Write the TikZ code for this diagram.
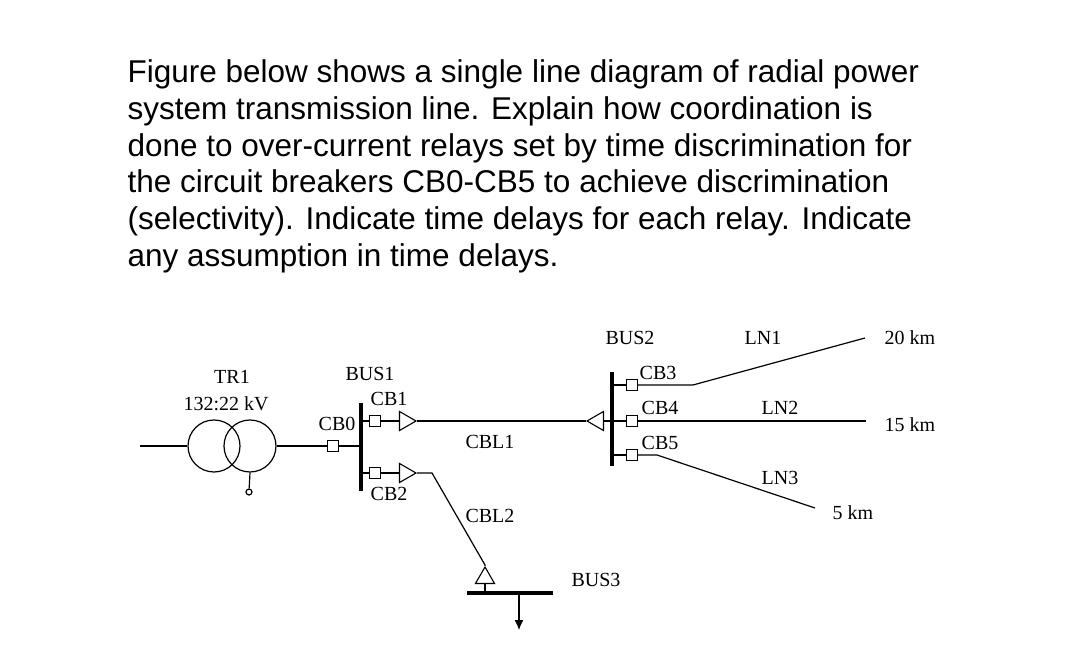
\documentclass[tikz,border=0pt]{standalone}
\usetikzlibrary{shapes.geometric,arrows.meta}
\usepackage{fontspec}
\setmainfont{Liberation Serif}
\newfontfamily\hsans{Liberation Sans}
\begin{document}
\begin{tikzpicture}[x=1pt,y=-1pt,line width=1.3pt,
  cb/.style={draw,fill=white,minimum size=11pt,inner sep=0pt,line width=1.1pt},
  tri/.style={draw,fill=white,regular polygon,regular polygon sides=3,minimum size=22pt,inner sep=0pt,line width=1.1pt},
  wire/.style={line width=1.2pt},
  lbl/.style={font=\fontsize{20}{22}\selectfont,inner sep=0pt},
  bus/.style={line width=4.5pt}]
\useasboundingbox[fill=white] (0,0) rectangle (1080,660);
\node[anchor=north west,align=left,inner sep=0pt,font=\hsans\fontsize{31.5}{36.8}\selectfont] (q) at (127,59)
{Figure below shows a single line diagram of radial power\\system transmission line. Explain how coordination is\\done to over-current relays set by time discrimination for\\the circuit breakers CB0-CB5 to achieve discrimination\\(selectivity). Indicate time delays for each relay. Indicate\\any assumption in time delays.};
% transformer
\coordinate (in) at (140,446);
\node[draw,circle,minimum size=52pt,inner sep=0pt,wire] (t1) at (214,446) {};
\node[draw,circle,minimum size=52pt,inner sep=0pt,wire] (t2) at (250,446) {};
\draw[wire] (in) -- (t1.west);
\node[draw,circle,minimum size=6pt,inner sep=0pt,wire] (gnd) at (249,492) {};
\draw[wire] (t2.south) -- (gnd);
% bus1
\coordinate (b1t) at (361,403); \coordinate (b1b) at (361,491);
\draw[bus] (b1t) -- (b1b);
\node[cb] (cb0) at (333,446) {};
\coordinate (b1m) at (361,446);
\draw[wire] (t2.east) -- (cb0) -- (b1m);
\node[cb] (cb1) at (375,421) {};
\node[cb] (cb2) at (375,473) {};
\node[tri,shape border rotate=-90] (tr1) at (405,421) {};
\node[tri,shape border rotate=-90] (tr2) at (405,473) {};
\draw[wire] (363,421) -- (cb1) -- (tr1);
\draw[wire] (363,473) -- (cb2) -- (tr2);
% bus2
\coordinate (b2t) at (612,372); \coordinate (b2b) at (612,466);
\draw[bus] (b2t) -- (b2b);
\node[tri,shape border rotate=90] (tr3) at (598,421) {};
\draw[wire] (tr1.east) -- (tr3.west);
\draw[wire] (tr3.east) -- (610,421);
\node[cb] (cb3) at (632,385) {};
\node[cb] (cb4) at (632,421) {};
\node[cb] (cb5) at (632,455) {};
\draw[wire] (614,385) -- (cb3); \draw[wire] (614,421) -- (cb4); \draw[wire] (614,455) -- (cb5);
\coordinate (e1) at (865,338); \coordinate (e2) at (866,421); \coordinate (e3) at (815,508);
\draw[wire] (cb3) -- (693,385) -- (e1);
\draw[wire] (cb4) -- (e2);
\draw[wire] (cb5) -- (657,455) -- (e3);
% CBL2 / bus3
\node[tri] (tr4) at (485,578) {};
\draw[wire] (tr2.east) -- (432,473) -- (485,565) -- (tr4.north);
\coordinate (b3l) at (467,593); \coordinate (b3r) at (553,593);
\draw[bus] (b3l) -- (b3r);
\draw[wire] (tr4.south) -- (485,591);
\coordinate (b3m) at (519,595); \coordinate (ld) at (519,630);
\draw[wire,-{Latex[length=10pt,width=9pt]}] (b3m) -- (ld);
% labels
\node[lbl] (l1) at (232,377) {TR1};
\node[lbl] (l2) at (226,404) {132:22 kV};
\node[lbl] (l3) at (370,374) {BUS1};
\node[lbl] (l4) at (389,399) {CB1};
\node[lbl] (l5) at (337,424) {CB0};
\node[lbl] (l6) at (389,494) {CB2};
\node[lbl] (l7) at (490,442) {CBL1};
\node[lbl] (l8) at (490,516) {CBL2};
\node[lbl] (l9) at (630,338) {BUS2};
\node[lbl] (l10) at (658,373) {CB3};
\node[lbl] (l11) at (660,408) {CB4};
\node[lbl] (l12) at (660,443) {CB5};
\node[lbl] (l13) at (763,338) {LN1};
\node[lbl] (l14) at (780,408) {LN2};
\node[lbl] (l15) at (780,478) {LN3};
\node[lbl] (l16) at (910,338) {20 km};
\node[lbl] (l17) at (910,425) {15 km};
\node[lbl] (l18) at (853,513) {5 km};
\node[lbl] (l19) at (596,580) {BUS3};
\end{tikzpicture}
\end{document}
